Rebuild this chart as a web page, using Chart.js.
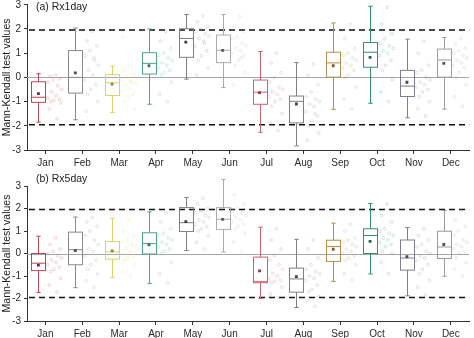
<!DOCTYPE html>
<html>
<head>
<meta charset="utf-8">
<script src="https://cdn.jsdelivr.net/npm/chart.js@4/dist/chart.umd.min.js"></script>
<style>
  html, body { margin: 0; padding: 0; background: #fff; }
  #wrap { position: relative; width: 474px; height: 338px; }
  canvas { position: absolute; left: 0; }
</style>
</head>
<body>
<div id="wrap">
  <canvas id="panelA" width="474" height="169" style="top:0px"></canvas>
  <canvas id="panelB" width="474" height="169" style="top:169px"></canvas>
</div>
<script>
// Months on the x axis
const months = ['Jan', 'Feb', 'Mar', 'Apr', 'May', 'Jun', 'Jul', 'Aug', 'Sep', 'Oct', 'Nov', 'Dec'];
const yTickValues = [-3, -2, -1, 0, 1, 2, 3];
const significanceLevels = [-1.96, 1.96];

// Rx1day: box-plot statistics per month
const rx1Low    = [-1.85, -1.75, -1.45, -1.11, -0.07, -0.42, -2.27, -2.83, -1.32, -1.07, -1.67, -1.31];
const rx1Q1     = [-1.03, -0.65, -0.75,  0.14,  0.83,  0.61, -1.11, -1.88,  0.01,  0.42, -0.79,  0.01];
const rx1Median = [-0.82,  0.00, -0.22,  0.58,  1.61,  1.12, -0.61, -0.99,  0.60,  1.04, -0.36,  0.72];
const rx1Q3     = [-0.18,  1.11,  0.11,  1.02,  2.01,  1.75, -0.11, -0.77,  1.04,  1.44,  0.29,  1.17];
const rx1High   = [ 0.15,  2.04,  0.47,  2.00,  2.60,  2.60,  1.07,  0.61,  2.25,  2.94,  1.58,  1.65];
const rx1Mean   = [-0.67,  0.19, -0.28,  0.48,  1.46,  1.12, -0.63, -1.10,  0.48,  0.83, -0.20,  0.58];

// Rx1day: station values per month
const rx1Samples = [
  [0.1, 0.05, -0.05, -0.1, -0.2, -0.35, -0.5, -0.6, -0.75, -0.85, -0.9, -0.95, -1.0, -1.05, -1.3, -1.7],
  [1.9, 1.5, 1.3, 1.1, 0.9, 0.7, 0.5, 0.3, 0.1, -0.1, -0.3, -0.5, -0.7, -1.0, -1.4, 0.8],
  [0.45, 0.3, 0.1, 0.0, -0.1, -0.2, -0.25, -0.3, -0.45, -0.55, -0.7, -0.8, -1.0, -1.3, 1.65, -0.15],
  [1.9, 1.5, 1.2, 1.0, 0.9, 0.8, 0.7, 0.6, 0.5, 0.4, 0.3, 0.2, 0.1, -0.2, -0.7, -1.0],
  [2.55, 2.3, 2.1, 2.0, 1.9, 1.8, 1.7, 1.6, 1.5, 1.3, 1.1, 0.9, 0.7, 0.4, 0.1, 1.4],
  [2.5, 2.1, 1.9, 1.7, 1.6, 1.4, 1.3, 1.2, 1.1, 1.0, 0.9, 0.7, 0.5, 0.2, -0.3, 0.8],
  [1.0, 0.6, 0.2, 0.0, -0.2, -0.4, -0.5, -0.6, -0.7, -0.8, -0.9, -1.0, -1.2, -1.5, -1.9, -2.2],
  [0.55, 0.1, -0.3, -0.6, -0.8, -0.9, -1.0, -1.1, -1.2, -1.4, -1.6, -1.8, -2.0, -2.3, -2.6, -1.5],
  [2.2, 1.6, 1.2, 1.0, 0.9, 0.8, 0.7, 0.6, 0.5, 0.4, 0.3, 0.1, 0.0, -0.4, -0.9, -1.3],
  [2.9, 2.2, 1.8, 1.6, 1.4, 1.3, 1.2, 1.1, 1.0, 0.9, 0.7, 0.5, 0.3, -0.1, -0.6, -1.0],
  [1.5, 1.0, 0.5, 0.3, 0.2, 0.0, -0.1, -0.2, -0.3, -0.4, -0.5, -0.6, -0.8, -1.0, -1.3, -1.6],
  [1.6, 1.4, 1.2, 1.1, 1.0, 0.9, 0.8, 0.7, 0.6, 0.5, 0.4, 0.2, 0.0, -0.3, -0.8, -1.2]
];

// Rx5day: box-plot statistics per month
const rx5Low    = [-1.73, -1.52, -1.06, -1.33,  0.13,  0.07, -1.99, -2.40, -1.24, -0.91, -1.88, -1.01];
const rx5Q1     = [-0.76, -0.50, -0.25, -0.02,  0.98,  1.07, -1.30, -1.72, -0.35,  0.00, -0.74, -0.22];
const rx5Median = [-0.43,  0.17,  0.07,  0.44,  1.37,  1.52, -1.25, -1.13,  0.31,  0.80, -0.20,  0.29];
const rx5Q3     = [ 0.00,  0.95,  0.53,  0.92,  2.04,  2.04, -0.16, -0.65,  0.59,  1.10,  0.60,  0.99];
const rx5High   = [ 0.77,  1.62,  1.55,  1.85,  2.49,  3.29,  1.17,  0.63,  1.35,  2.22,  1.15,  1.91];
const rx5Mean   = [-0.52,  0.13,  0.12,  0.39,  1.42,  1.52, -0.77, -1.03,  0.19,  0.54, -0.14,  0.40];

// Rx5day: station values per month
const rx5Samples = [
  [0.7, 0.4, 0.2, 0.1, 0.0, -0.1, -0.2, -0.3, -0.4, -0.5, -0.6, -0.7, -0.8, -1.1, -1.4, -1.7],
  [1.6, 1.4, 1.2, 1.0, 0.8, 0.6, 0.4, 0.2, 0.1, -0.1, -0.3, -0.5, -0.7, -0.9, -1.2, -1.5],
  [1.5, 1.0, 0.8, 0.6, 0.5, 0.4, 0.3, 0.2, 0.1, 0.0, -0.1, -0.2, -0.3, -0.5, -0.8, -1.0],
  [1.8, 1.4, 1.1, 0.9, 0.8, 0.7, 0.6, 0.5, 0.4, 0.3, 0.2, 0.1, 0.0, -0.4, -0.9, -1.3],
  [2.45, 2.2, 2.0, 1.9, 1.8, 1.7, 1.6, 1.5, 1.4, 1.3, 1.2, 1.1, 1.0, 0.8, 0.5, 0.2],
  [3.2, 2.6, 2.2, 2.0, 1.9, 1.8, 1.7, 1.6, 1.5, 1.4, 1.3, 1.2, 1.1, 0.9, 0.5, 0.1],
  [1.1, 0.6, 0.2, -0.1, -0.3, -0.5, -0.7, -0.9, -1.0, -1.1, -1.2, -1.25, -1.3, -1.5, -1.8, -1.95],
  [0.6, 0.2, -0.2, -0.5, -0.7, -0.8, -0.9, -1.0, -1.1, -1.2, -1.4, -1.6, -1.7, -1.9, -2.1, -2.35],
  [1.3, 1.0, 0.7, 0.6, 0.5, 0.4, 0.3, 0.2, 0.1, 0.0, -0.1, -0.2, -0.3, -0.5, -0.9, -1.2],
  [2.2, 1.7, 1.4, 1.1, 1.0, 0.9, 0.8, 0.7, 0.6, 0.5, 0.4, 0.3, 0.1, 0.0, -0.4, -0.9],
  [1.1, 0.8, 0.6, 0.4, 0.3, 0.1, 0.0, -0.1, -0.2, -0.3, -0.5, -0.7, -0.9, -1.2, -1.5, -1.85],
  [1.9, 1.5, 1.2, 1.0, 0.8, 0.6, 0.5, 0.4, 0.3, 0.2, 0.1, 0.0, -0.2, -0.4, -0.7, -1.0]
];

// Horizontal spread of the station dots to the right of each box (fraction of the dot strip)
const jitterPattern = [0.55, 0.2, 0.85, 0.4, 0.1, 0.7, 0.95, 0.3, 0.6, 0.05, 0.8, 0.45, 0.25, 0.9, 0.15, 0.65];

// Box outline colours and darker mean-marker colours
const boxColors  = ['#bc4654', '#8a8a8a', '#ddd068', '#4fa388', '#7e7e7e', '#ababab',
                    '#cf6070', '#808080', '#b38e4e', '#358e76', '#807c8c', '#9c9c9c'];
const meanColors = ['#8a2030', '#4a4a4a', '#8c8440', '#2f7a62', '#3a3a3a', '#5a5a5a',
                    '#9a3040', '#404040', '#8a5a28', '#1f6a56', '#4a4658', '#555555'];

const FONT = "'Liberation Sans', Arial, sans-serif";

function hexToRgba(hex, a) {
  const n = parseInt(hex.slice(1), 16);
  return `rgba(${(n >> 16) & 255},${(n >> 8) & 255},${n & 255},${a})`;
}

// Draws the reference lines and the boxes/whiskers through the chart scales
const boxPlotPlugin = {
  id: 'boxPlot',
  beforeDatasetsDraw(chart, args, opts) {
    const { ctx, chartArea } = chart;
    const x = chart.scales.x, y = chart.scales.y;
    const unit = x.getPixelForValue(1) - x.getPixelForValue(0);
    ctx.save();
    // zero line
    ctx.strokeStyle = '#a6a6a6';
    ctx.lineWidth = 1;
    ctx.beginPath();
    const y0 = Math.round(y.getPixelForValue(0)) + 0.5;
    ctx.moveTo(chartArea.left, y0);
    ctx.lineTo(chartArea.right, y0);
    ctx.stroke();
    // significance levels
    ctx.strokeStyle = '#111';
    ctx.lineWidth = 1.5;
    ctx.setLineDash([6, 4]);
    significanceLevels.forEach(v => {
      const py = y.getPixelForValue(v);
      ctx.beginPath();
      ctx.moveTo(chartArea.left + 2, py);
      ctx.lineTo(chartArea.right, py);
      ctx.stroke();
    });
    ctx.setLineDash([]);
    // boxes
    const s = opts.stats;
    ctx.lineWidth = 1;
    months.forEach((m, i) => {
      const cx = Math.round(x.getPixelForValue(i - 0.19)) + 0.5;
      const hw = Math.round(unit * 0.19);
      const capW = unit * 0.06;
      const pLow = y.getPixelForValue(s.low[i]);
      const pQ1 = y.getPixelForValue(s.q1[i]);
      const pMed = y.getPixelForValue(s.median[i]);
      const pQ3 = y.getPixelForValue(s.q3[i]);
      const pHigh = y.getPixelForValue(s.high[i]);
      ctx.strokeStyle = boxColors[i];
      ctx.beginPath();
      ctx.moveTo(cx, pQ3); ctx.lineTo(cx, pHigh);
      ctx.moveTo(cx - capW, pHigh); ctx.lineTo(cx + capW, pHigh);
      ctx.moveTo(cx, pQ1); ctx.lineTo(cx, pLow);
      ctx.moveTo(cx - capW, pLow); ctx.lineTo(cx + capW, pLow);
      ctx.stroke();
      ctx.strokeRect(cx - hw, pQ3, hw * 2, pQ1 - pQ3);
      ctx.beginPath();
      ctx.moveTo(cx - hw, pMed); ctx.lineTo(cx + hw, pMed);
      ctx.stroke();
    });
    ctx.restore();
  },
  afterDraw(chart, args, opts) {
    const { ctx, chartArea } = chart;
    ctx.save();
    ctx.fillStyle = '#222';
    ctx.font = `10.5px ${FONT}`;
    ctx.textBaseline = 'middle';
    ctx.textAlign = 'left';
    ctx.fillText(opts.title, chartArea.left + 9, opts.titleY);
    ctx.restore();
  }
};

function makePanel(canvasId, panelTitle, titleY, topPad, xAxisHeight, stats, samples) {
  const dots = [];
  const dotColors = [];
  samples.forEach((vals, i) => {
    vals.forEach((v, k) => {
      dots.push({ x: i + 0.04 + jitterPattern[k % jitterPattern.length] * 0.42, y: v });
      dotColors.push(hexToRgba(boxColors[i], 0.28));
    });
  });
  const means = stats.mean.map((v, i) => ({ x: i - 0.19, y: v }));

  return new Chart(document.getElementById(canvasId), {
    type: 'scatter',
    data: {
      datasets: [
        {
          data: dots,
          pointStyle: 'circle',
          pointRadius: 1.4,
          pointBorderWidth: 0.8,
          pointBorderColor: dotColors,
          pointBackgroundColor: 'rgba(0,0,0,0)'
        },
        {
          data: means,
          pointStyle: 'rect',
          pointRadius: 2,
          pointBorderWidth: 0,
          pointBackgroundColor: meanColors,
          pointBorderColor: meanColors
        }
      ]
    },
    options: {
      responsive: false,
      animation: false,
      events: [],
      layout: { padding: { top: topPad, right: 2, bottom: 0, left: 0 } },
      plugins: {
        legend: { display: false },
        tooltip: { enabled: false },
        boxPlot: { stats, title: panelTitle, titleY }
      },
      scales: {
        x: {
          type: 'linear',
          min: -0.5,
          max: 11.5,
          afterBuildTicks: (scale) => { scale.ticks = months.map((m, i) => ({ value: i })); },
          afterFit: (scale) => { scale.height = xAxisHeight; scale.paddingLeft = 0; scale.paddingRight = 0; },
          ticks: {
            callback: (v) => months[v],
            autoSkip: false,
            maxRotation: 0,
            padding: 3,
            color: '#2a2a2a',
            font: { family: FONT, size: 10 }
          },
          grid: { display: true, drawOnChartArea: false, drawTicks: true, tickLength: 4, color: '#333' },
          border: { display: true, color: '#333', width: 1 }
        },
        y: {
          min: -3,
          max: 3,
          afterBuildTicks: (scale) => {
            const t = [];
            for (let v = -3; v <= 3.001; v += 0.5) t.push({ value: Math.round(v * 10) / 10 });
            scale.ticks = t;
          },
          afterFit: (scale) => { scale.width = 27; scale.paddingTop = 0; scale.paddingBottom = 0; },
          ticks: {
            callback: (v) => (yTickValues.includes(v) ? String(v) : ''),
            padding: 3,
            color: '#2a2a2a',
            font: { family: FONT, size: 10 }
          },
          grid: { display: true, drawOnChartArea: false, drawTicks: true, tickLength: 3, color: '#333' },
          border: { display: true, color: '#333', width: 1 },
          title: {
            display: true,
            text: 'Mann-Kendall test values',
            color: '#222',
            padding: { top: 1, bottom: 0 },
            font: { family: FONT, size: 10.5 }
          }
        }
      }
    },
    plugins: [boxPlotPlugin]
  });
}

makePanel('panelA', '(a) Rx1day', 7, 4.5, 19,
  { low: rx1Low, q1: rx1Q1, median: rx1Median, q3: rx1Q3, high: rx1High, mean: rx1Mean },
  rx1Samples);

makePanel('panelB', '(b) Rx5day', 10, 17, 17,
  { low: rx5Low, q1: rx5Q1, median: rx5Median, q3: rx5Q3, high: rx5High, mean: rx5Mean },
  rx5Samples);
</script>
</body>
</html>
